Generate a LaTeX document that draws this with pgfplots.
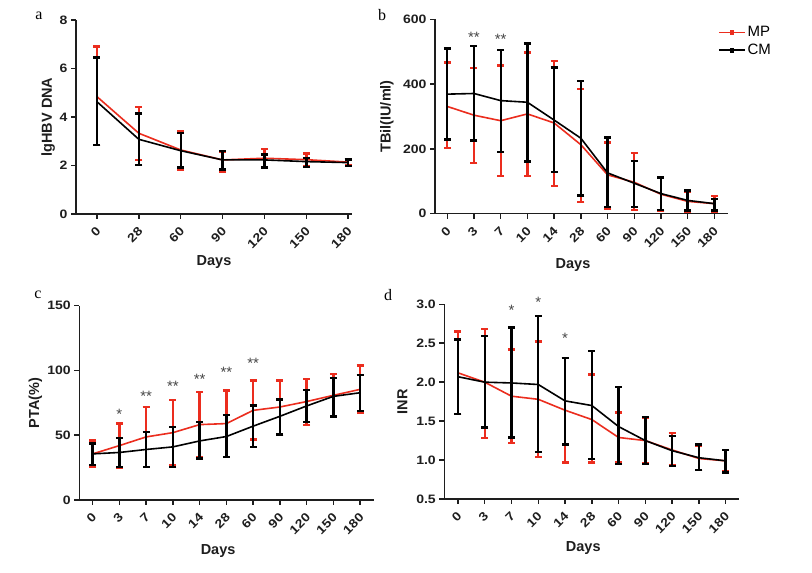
\documentclass[border=0pt]{standalone}
\usepackage{pgfplots}
\pgfplotsset{compat=1.18}
\usepackage{pgfplotstable}
\usepackage{fontspec}
\setmainfont{Liberation Sans}
\newfontfamily\seriffont{Liberation Serif}
\newfontfamily\tickfont[FakeStretch=1.15]{Liberation Sans}
\definecolor{mpred}{RGB}{235,45,30}
\definecolor{axgray}{RGB}{30,30,30}
\definecolor{stargray}{RGB}{70,70,70}

% i = category index; m/t/b = MP mean/top/bottom; c/ct/cb = CM mean/top/bottom
\pgfplotstableread{
i m t b c ct cb
0 4.84 6.90 2.85 4.63 6.46 2.85
1 3.33 4.40 2.23 3.08 4.15 2.02
2 2.64 3.42 1.84 2.61 3.33 1.91
3 2.23 2.57 1.75 2.23 2.60 1.84
4 2.30 2.68 1.92 2.23 2.46 1.91
5 2.24 2.50 1.98 2.16 2.32 1.94
6 2.14 2.28 2.00 2.12 2.25 1.97
}\tA
\pgfplotstableread{
i m t b c ct cb
0 331 467 202 369 510 229
1 304 449 157 371 518 226
2 287 458 116 349 505 190
3 308 497 116 344 525 161
4 280 472 85 289 451 128
5 213 385 36 233 410 56
6 120 220 14 126 235 20
7 97 187 12 94 163 20
8 60 112 10 62 112 12
9 38 67 7 41 72 10
10 31 54 6 31 46 10
}\tB
\pgfplotstableread{
i m t b c ct cb
0 35.6 46.0 25.4 35.6 43.6 27.0
1 42.0 59.0 25.0 36.7 48.0 25.6
2 48.7 71.8 25.6 39.0 52.6 25.6
3 52.0 77.4 27.0 41.0 56.4 25.6
4 58.2 83.3 33.0 45.6 60.3 32.0
5 59.0 84.6 33.4 49.0 65.6 33.3
6 69.2 92.3 46.7 57.0 73.0 41.0
7 71.8 92.3 50.5 64.6 77.7 50.5
8 76.0 93.6 58.0 72.6 85.0 60.0
9 80.8 97.4 64.6 80.0 94.0 64.6
10 85.4 103.8 67.4 82.8 96.7 68.7
}\tC
\pgfplotstableread{
i m t b c ct cb
0 2.12 2.65 1.59 2.07 2.55 1.59
1 2.00 2.68 1.28 2.00 2.59 1.42
2 1.82 2.42 1.22 1.99 2.70 1.29
3 1.78 2.52 1.04 1.97 2.85 1.10
4 1.64 2.31 0.97 1.76 2.31 1.20
5 1.52 2.10 0.97 1.70 2.40 1.01
6 1.29 1.61 0.97 1.43 1.94 0.95
7 1.25 1.54 0.96 1.25 1.55 0.95
8 1.13 1.35 0.93 1.12 1.31 0.92
9 1.02 1.18 0.87 1.03 1.20 0.87
10 0.99 1.13 0.86 0.99 1.13 0.84
}\tD

\tikzset{sig/.style={font=\fontsize{15}{15}\selectfont, text=stargray, anchor=north, inner sep=0pt}}

\pgfplotsset{
  panel/.style={
    scale only axis, anchor=south west,
    axis lines=left,
    axis line style={-, line width=1.5pt, color=axgray},
    tick style={line width=1.5pt, color=axgray},
    major tick length=5pt, tick align=outside,
    clip=false,
    ticklabel style={font=\tickfont\bfseries\fontsize{12.2}{14}\selectfont, text=axgray},
    /pgf/number format/assume math mode=true,
    xticklabel style={xshift=4pt, yshift=-8pt, rotate=45, anchor=east},
    label style={font=\bfseries\fontsize{14.5}{16}\selectfont, text=axgray},
    xlabel={Days},
    ylabel style={anchor=center},
    xlabel style={anchor=center},
  },
  mp/.style={color=mpred, line width=1.6pt, mark=none,
    error bars/y dir=both, error bars/y explicit,
    error bars/error mark=-,
    error bars/error bar style={line width=2.4pt, color=mpred},
    error bars/error mark options={rotate=90, color=mpred, line width=2.4pt, mark size=3.5pt}},
  cm/.style={color=black, line width=1.6pt, mark=none,
    error bars/y dir=both, error bars/y explicit,
    error bars/error mark=-,
    error bars/error bar style={line width=2.4pt, color=black},
    error bars/error mark options={rotate=90, color=black, line width=2.4pt, mark size=3.5pt}},
}

\newcommand{\pair}[1]{%
  \addplot[mp] table[x=i, y=m, y error plus expr=\thisrow{t}-\thisrow{m}, y error minus expr=\thisrow{m}-\thisrow{b}] {#1};
  \addplot[cm] table[x=i, y=c, y error plus expr=\thisrow{ct}-\thisrow{c}, y error minus expr=\thisrow{c}-\thisrow{cb}] {#1};
}

\begin{document}
\begin{tikzpicture}[x=1pt,y=1pt]
\useasboundingbox (0,0) rectangle (812,573);

% panel a
\begin{axis}[panel, at={(76pt,359pt)}, width=276pt, height=194pt,
  xmin=-0.5, xmax=6.09, ymin=0, ymax=8, ytick={0,2,4,6,8},
  xtick={0,...,6}, xticklabels={0,28,60,90,120,150,180},
  ylabel={lgHBV DNA},
  ylabel style={at={(axis description cs:-0.101,0.5)}},
  xlabel style={at={(axis description cs:0.5,-0.247)}}]
\pair{\tA}
\end{axis}

% panel b
\begin{axis}[panel, at={(435pt,359.3pt)}, width=293pt, height=194.4pt,
  xmin=-0.46, xmax=10.51, ymin=0, ymax=600, ytick={0,200,400,600},
  xtick={0,...,10}, xticklabels={0,3,7,10,14,28,60,90,120,150,180},
  ylabel={TBil(IU/ml)},
  ylabel style={at={(axis description cs:-0.164,0.5)}},
  xlabel style={at={(axis description cs:0.471,-0.264)}},
  legend style={at={(rel axis cs:0.955,0.985)}, anchor=north west, draw=none, fill=none,
    font=\fontsize{15}{17}\selectfont, row sep=2pt},
  legend cell align=left,
  legend image code/.code={%
    \draw[#1, line width=1.6pt] (0pt,0pt) -- (26pt,0pt);
    \fill[#1] (11.5pt,-1.6pt) rectangle (14.5pt,1.6pt);}]
\addplot[mp] table[x=i, y=m, y error plus expr=\thisrow{t}-\thisrow{m}, y error minus expr=\thisrow{m}-\thisrow{b}] {\tB};
\addlegendentry{MP}
\addplot[cm] table[x=i, y=c, y error plus expr=\thisrow{ct}-\thisrow{c}, y error minus expr=\thisrow{c}-\thisrow{cb}] {\tB};
\addlegendentry{CM}
\node[sig] at (axis cs:1,562) {**};
\node[sig] at (axis cs:2,556) {**};
\end{axis}

% panel c
\begin{axis}[panel, at={(79.3pt,73pt)}, width=294.7pt, height=194.3pt,
  xmin=-0.5, xmax=10.52, ymin=0, ymax=150, ytick={0,50,100,150},
  xtick={0,...,10}, xticklabels={0,3,7,10,14,28,60,90,120,150,180},
  ylabel={PTA(\%)},
  ylabel style={at={(axis description cs:-0.149,0.5)}},
  xlabel style={at={(axis description cs:0.471,-0.262)}}]
\pair{\tC}
\node[sig] at (axis cs:1,70) {*};
\node[sig] at (axis cs:2,84) {**};
\node[sig] at (axis cs:3,92.2) {**};
\node[sig] at (axis cs:4,97.2) {**};
\node[sig] at (axis cs:5,102.4) {**};
\node[sig] at (axis cs:6,109.6) {**};
\end{axis}

% panel d
\begin{axis}[panel, at={(444.3pt,74pt)}, width=295pt, height=194.7pt,
  xmin=-0.51, xmax=10.51, ymin=0.5, ymax=3, ytick={0.5,1,1.5,2,2.5,3},
  yticklabel style={/pgf/number format/.cd, fixed, fixed zerofill, precision=1},
  xtick={0,...,10}, xticklabels={0,3,7,10,14,28,60,90,120,150,180},
  ylabel={INR},
  ylabel style={at={(axis description cs:-0.142,0.5)}},
  xlabel style={at={(axis description cs:0.471,-0.253)}}]
\pair{\tD}
\node[sig] at (axis cs:2,2.99) {*};
\node[sig] at (axis cs:3,3.10) {*};
\node[sig] at (axis cs:4,2.63) {*};
\end{axis}

% panel letters
\node[font=\seriffont\fontsize{16}{16}\selectfont] at (39,557) {a};
\node[font=\seriffont\fontsize{16}{16}\selectfont] at (382,558) {b};
\node[font=\seriffont\fontsize{16}{16}\selectfont] at (38,278) {c};
\node[font=\seriffont\fontsize{16}{16}\selectfont] at (388,278) {d};
\end{tikzpicture}
\end{document}
